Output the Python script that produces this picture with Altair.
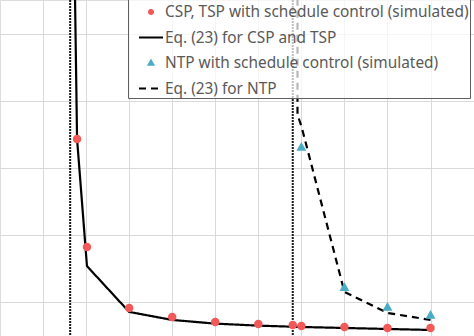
import altair as alt
import pandas as pd

# ---- data ----
csp_sim_x = [1.79, 2.02, 3, 4, 5, 6, 6.8, 7, 8, 9, 10]
csp_sim_y = [5.86, 2.63, 0.81, 0.54, 0.39, 0.33, 0.30, 0.27, 0.24, 0.21, 0.21]

csp_eq_x = [1.71, 1.79, 2.02, 3, 4, 5, 6, 7, 8, 9, 10]
csp_eq_y = [13.0, 5.86, 2.06, 0.69, 0.45, 0.34, 0.28, 0.24, 0.21, 0.18, 0.15]

ntp_sim_x = [7, 8, 9, 10]
ntp_sim_y = [5.62, 1.43, 0.84, 0.60]

ntp_eq_x = [6.91, 6.91, 7, 8, 9, 10]
ntp_eq_y = [14.0, 6.58, 6.25, 1.29, 0.66, 0.45]

limit_x = [1.63, 6.8]

series = [
    "CSP, TSP with schedule control (simulated)",
    "Eq. (23) for CSP and TSP",
    "NTP with schedule control (simulated)",
    "Eq. (23) for NTP",
]
grid_vals = [1, 2, 3, 4, 5, 6, 7, 8, 9, 10]

# ---- tables ----
def table(xs, ys, name):
    return pd.DataFrame({"x": xs, "y": ys, "series": name, "i": range(len(xs))})

pts = pd.concat([table(csp_sim_x, csp_sim_y, series[0]),
                 table(ntp_sim_x, ntp_sim_y, series[2])])
lines = pd.concat([table(csp_eq_x, csp_eq_y, series[1]),
                   table(ntp_eq_x, ntp_eq_y, series[3])])
limits = pd.DataFrame({"x": limit_x})

xs = alt.Scale(domain=[0, 11.01], nice=False, zero=False)
ys = alt.Scale(domain=[-0.03, 10.015], nice=False, zero=False)

grid_axis = dict(grid=True, labels=False, ticks=False, domain=False, title=None,
                 values=grid_vals, gridColor="#d9d9d9", gridWidth=1)

color_scale = alt.Scale(domain=series,
                        range=["#f25a5a", "#000000", "#4bacc6", "#000000"])
shape_scale = alt.Scale(domain=series, range=[
    "M-0.17,0A0.17,0.17 0 1,0 0.17,0A0.17,0.17 0 1,0 -0.17,0Z",
    "M-1,0H1",
    "M0,-0.2L0.2,0.15L-0.2,0.15Z",
    "M-1,0H1",
])
dash_scale = alt.Scale(domain=series, range=[[1, 0], [1, 0], [1, 0], [7, 5]])

legend = alt.Legend(
    title=None, orient="none", legendX=128, legendY=-2,
    padding=1, symbolOffset=9, labelOffset=1, rowPadding=3.5,
    symbolSize=576, symbolStrokeWidth=2,
    labelFont="Noto Sans", labelFontSize=15.4, labelColor="#595959", labelLimit=600,
    labelExpr="datum.label + '          '",
    fillColor="rgba(255,255,255,0.72)", strokeColor="#5f5f5f",
)

rules = alt.Chart(limits).mark_rule(strokeDash=[2, 1], strokeWidth=2, color="#1a1a1a").encode(
    x=alt.X("x:Q", scale=xs, axis=alt.Axis(**grid_axis)),
    y=alt.value(0), y2=alt.value(336),
)

line_layer = alt.Chart(lines).mark_line(clip=True, strokeWidth=2.2).encode(
    x=alt.X("x:Q", scale=xs),
    y=alt.Y("y:Q", scale=ys, axis=alt.Axis(**grid_axis)),
    color=alt.Color("series:N", scale=color_scale, legend=legend, sort=series),
    strokeDash=alt.StrokeDash("series:N", scale=dash_scale, legend=legend, sort=series),
    order=alt.Order("i:Q"),
)

point_layer = alt.Chart(pts).mark_point(filled=True, opacity=1, size=2500).encode(
    x=alt.X("x:Q", scale=xs),
    y=alt.Y("y:Q", scale=ys),
    color=alt.Color("series:N", scale=color_scale, legend=legend, sort=series),
    shape=alt.Shape("series:N", scale=shape_scale, legend=legend, sort=series),
)

chart = alt.layer(rules, line_layer, point_layer).properties(
    width=474, height=336, padding=0, autosize="none",
).configure_view(stroke=None).configure(background="white")

chart.save("out.html", embed_options={"renderer": "svg", "actions": False})
